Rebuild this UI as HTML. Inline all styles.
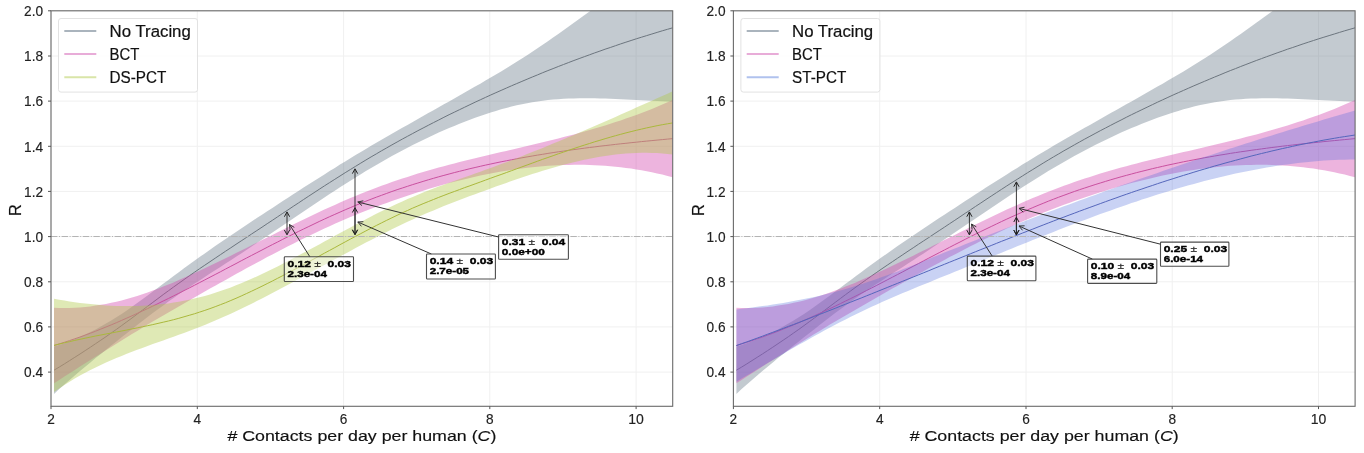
<!DOCTYPE html><html><head><meta charset="utf-8"><style>html,body{margin:0;padding:0;background:#fff;overflow:hidden}svg{display:block;will-change:transform}</style></head><body><svg width="1364" height="453" viewBox="0 0 1364 453">
<rect width="1364" height="453" fill="#fff"/>
<g font-family='"Liberation Sans", sans-serif'>
<line x1="51.0" y1="10.8" x2="51.0" y2="406.3" stroke="#f0f0f0" stroke-width="1"/>
<line x1="197.3" y1="10.8" x2="197.3" y2="406.3" stroke="#f0f0f0" stroke-width="1"/>
<line x1="343.6" y1="10.8" x2="343.6" y2="406.3" stroke="#f0f0f0" stroke-width="1"/>
<line x1="489.8" y1="10.8" x2="489.8" y2="406.3" stroke="#f0f0f0" stroke-width="1"/>
<line x1="636.1" y1="10.8" x2="636.1" y2="406.3" stroke="#f0f0f0" stroke-width="1"/>
<line x1="51.0" y1="372.1" x2="672.7" y2="372.1" stroke="#f0f0f0" stroke-width="1"/>
<line x1="51.0" y1="326.9" x2="672.7" y2="326.9" stroke="#f0f0f0" stroke-width="1"/>
<line x1="51.0" y1="281.8" x2="672.7" y2="281.8" stroke="#f0f0f0" stroke-width="1"/>
<line x1="51.0" y1="236.6" x2="672.7" y2="236.6" stroke="#f0f0f0" stroke-width="1"/>
<line x1="51.0" y1="191.4" x2="672.7" y2="191.4" stroke="#f0f0f0" stroke-width="1"/>
<line x1="51.0" y1="146.3" x2="672.7" y2="146.3" stroke="#f0f0f0" stroke-width="1"/>
<line x1="51.0" y1="101.1" x2="672.7" y2="101.1" stroke="#f0f0f0" stroke-width="1"/>
<line x1="51.0" y1="56.0" x2="672.7" y2="56.0" stroke="#f0f0f0" stroke-width="1"/>
<line x1="51.0" y1="10.8" x2="672.7" y2="10.8" stroke="#f0f0f0" stroke-width="1"/>
<clipPath id="clip0"><rect x="51.0" y="10.8" width="621.7" height="395.5"/></clipPath>
<g clip-path="url(#clip0)">
<path d="M54.0,346.6 L59.2,345.0 L64.4,343.2 L69.6,341.3 L74.8,339.2 L80.0,337.0 L85.2,334.6 L90.4,332.1 L95.6,329.4 L100.8,326.6 L106.0,323.6 L111.2,320.5 L116.4,317.3 L121.6,313.9 L126.8,310.4 L132.0,306.8 L137.2,303.1 L142.4,299.3 L147.6,295.5 L152.8,291.6 L158.0,287.7 L163.2,283.8 L168.4,279.9 L173.6,276.0 L178.8,272.2 L184.0,268.3 L189.2,264.6 L194.4,260.8 L199.6,257.1 L204.8,253.4 L210.0,249.7 L215.2,246.1 L220.4,242.5 L225.6,238.9 L230.8,235.4 L236.0,231.9 L241.2,228.4 L246.4,225.0 L251.6,221.5 L256.8,218.1 L262.0,214.7 L267.2,211.3 L272.4,207.9 L277.6,204.5 L282.8,201.1 L288.0,197.7 L293.2,194.3 L298.4,191.0 L303.6,187.6 L308.8,184.3 L314.0,181.0 L319.2,177.7 L324.4,174.4 L329.6,171.1 L334.8,167.9 L340.0,164.6 L345.2,161.4 L350.4,158.3 L355.6,155.1 L360.8,152.0 L365.9,148.9 L371.1,145.8 L376.3,142.8 L381.5,139.8 L386.7,136.8 L391.9,133.8 L397.1,130.8 L402.3,127.8 L407.5,124.9 L412.7,121.9 L417.9,119.0 L423.1,116.0 L428.3,113.1 L433.5,110.2 L438.7,107.3 L443.9,104.3 L449.1,101.4 L454.3,98.5 L459.5,95.5 L464.7,92.6 L469.9,89.6 L475.1,86.6 L480.3,83.7 L485.5,80.6 L490.7,77.6 L495.9,74.5 L501.1,71.4 L506.3,68.3 L511.5,65.1 L516.7,61.8 L521.9,58.5 L527.1,55.2 L532.3,51.7 L537.5,48.3 L542.7,44.7 L547.9,41.2 L553.1,37.5 L558.3,33.9 L563.5,30.2 L568.7,26.5 L573.9,22.7 L579.1,19.0 L584.3,15.2 L589.5,11.4 L594.7,7.6 L599.9,3.8 L605.1,-0.0 L610.3,-3.8 L615.5,-7.6 L620.7,-11.3 L625.9,-15.0 L631.1,-18.7 L636.3,-22.3 L641.5,-25.9 L646.7,-29.4 L651.9,-32.9 L657.1,-36.2 L662.3,-39.6 L667.5,-42.8 L672.7,-45.9 L672.7,101.5 L667.5,101.4 L662.3,101.2 L657.1,101.0 L651.9,100.8 L646.7,100.5 L641.5,100.3 L636.3,100.0 L631.1,99.7 L625.9,99.5 L620.7,99.2 L615.5,99.0 L610.3,98.7 L605.1,98.5 L599.9,98.4 L594.7,98.3 L589.5,98.2 L584.3,98.2 L579.1,98.2 L573.9,98.4 L568.7,98.6 L563.5,98.8 L558.3,99.2 L553.1,99.6 L547.9,100.1 L542.7,100.7 L537.5,101.4 L532.3,102.3 L527.1,103.2 L521.9,104.2 L516.7,105.3 L511.5,106.6 L506.3,107.9 L501.1,109.3 L495.9,110.9 L490.7,112.5 L485.5,114.2 L480.3,116.0 L475.1,117.8 L469.9,119.7 L464.7,121.7 L459.5,123.8 L454.3,125.9 L449.1,128.1 L443.9,130.3 L438.7,132.6 L433.5,135.0 L428.3,137.4 L423.1,139.9 L417.9,142.5 L412.7,145.1 L407.5,147.8 L402.3,150.5 L397.1,153.3 L391.9,156.1 L386.7,159.0 L381.5,161.9 L376.3,164.9 L371.1,168.0 L365.9,171.1 L360.8,174.2 L355.6,177.4 L350.4,180.7 L345.2,184.0 L340.0,187.3 L334.8,190.7 L329.6,194.1 L324.4,197.5 L319.2,201.0 L314.0,204.4 L308.8,207.9 L303.6,211.5 L298.4,215.0 L293.2,218.5 L288.0,222.0 L282.8,225.6 L277.6,229.1 L272.4,232.6 L267.2,236.1 L262.0,239.6 L256.8,243.1 L251.6,246.5 L246.4,250.0 L241.2,253.4 L236.0,256.8 L230.8,260.2 L225.6,263.5 L220.4,266.9 L215.2,270.3 L210.0,273.6 L204.8,277.0 L199.6,280.4 L194.4,283.8 L189.2,287.3 L184.0,290.8 L178.8,294.3 L173.6,297.9 L168.4,301.6 L163.2,305.4 L158.0,309.2 L152.8,313.1 L147.6,317.0 L142.4,321.0 L137.2,325.1 L132.0,329.2 L126.8,333.2 L121.6,337.3 L116.4,341.5 L111.2,345.6 L106.0,349.7 L100.8,353.9 L95.6,358.1 L90.4,362.4 L85.2,366.7 L80.0,371.0 L74.8,375.4 L69.6,379.9 L64.4,384.5 L59.2,389.1 L54.0,393.9Z" fill="#697a89" fill-opacity="0.4" clip-path="url(#clip0)"/>
<path d="M54.0,370.2 L59.2,367.1 L64.4,363.9 L69.6,360.6 L74.8,357.3 L80.0,354.0 L85.2,350.6 L90.4,347.2 L95.6,343.7 L100.8,340.2 L106.0,336.7 L111.2,333.0 L116.4,329.4 L121.6,325.6 L126.8,321.8 L132.0,318.0 L137.2,314.1 L142.4,310.2 L147.6,306.3 L152.8,302.4 L158.0,298.5 L163.2,294.6 L168.4,290.8 L173.6,287.0 L178.8,283.3 L184.0,279.6 L189.2,275.9 L194.4,272.3 L199.6,268.7 L204.8,265.2 L210.0,261.7 L215.2,258.2 L220.4,254.7 L225.6,251.2 L230.8,247.8 L236.0,244.3 L241.2,240.9 L246.4,237.5 L251.6,234.0 L256.8,230.6 L262.0,227.2 L267.2,223.7 L272.4,220.3 L277.6,216.8 L282.8,213.3 L288.0,209.9 L293.2,206.4 L298.4,203.0 L303.6,199.5 L308.8,196.1 L314.0,192.7 L319.2,189.3 L324.4,185.9 L329.6,182.6 L334.8,179.3 L340.0,176.0 L345.2,172.7 L350.4,169.5 L355.6,166.3 L360.8,163.1 L365.9,160.0 L371.1,156.9 L376.3,153.9 L381.5,150.8 L386.7,147.9 L391.9,144.9 L397.1,142.0 L402.3,139.1 L407.5,136.3 L412.7,133.5 L417.9,130.7 L423.1,128.0 L428.3,125.3 L433.5,122.6 L438.7,120.0 L443.9,117.3 L449.1,114.7 L454.3,112.2 L459.5,109.7 L464.7,107.2 L469.9,104.7 L475.1,102.2 L480.3,99.8 L485.5,97.4 L490.7,95.0 L495.9,92.7 L501.1,90.4 L506.3,88.1 L511.5,85.8 L516.7,83.6 L521.9,81.4 L527.1,79.2 L532.3,77.0 L537.5,74.9 L542.7,72.7 L547.9,70.6 L553.1,68.6 L558.3,66.5 L563.5,64.5 L568.7,62.5 L573.9,60.5 L579.1,58.6 L584.3,56.7 L589.5,54.8 L594.7,52.9 L599.9,51.1 L605.1,49.2 L610.3,47.5 L615.5,45.7 L620.7,43.9 L625.9,42.2 L631.1,40.5 L636.3,38.8 L641.5,37.2 L646.7,35.6 L651.9,34.0 L657.1,32.4 L662.3,30.8 L667.5,29.3 L672.7,27.8" fill="none" stroke="#6c757e" stroke-width="1" clip-path="url(#clip0)"/>
<path d="M54.0,307.8 L59.2,308.0 L64.4,308.0 L69.6,308.0 L74.8,307.7 L80.0,307.4 L85.2,306.9 L90.4,306.4 L95.6,305.6 L100.8,304.8 L106.0,303.9 L111.2,302.8 L116.4,301.7 L121.6,300.4 L126.8,299.0 L132.0,297.5 L137.2,295.9 L142.4,294.3 L147.6,292.5 L152.8,290.6 L158.0,288.7 L163.2,286.6 L168.4,284.5 L173.6,282.4 L178.8,280.1 L184.0,277.8 L189.2,275.5 L194.4,273.1 L199.6,270.7 L204.8,268.3 L210.0,265.8 L215.2,263.3 L220.4,260.8 L225.6,258.2 L230.8,255.7 L236.0,253.1 L241.2,250.5 L246.4,247.9 L251.6,245.3 L256.8,242.7 L262.0,240.1 L267.2,237.5 L272.4,234.9 L277.6,232.3 L282.8,229.7 L288.0,227.1 L293.2,224.5 L298.4,222.0 L303.6,219.5 L308.8,217.0 L314.0,214.5 L319.2,212.0 L324.4,209.6 L329.6,207.2 L334.8,204.9 L340.0,202.6 L345.2,200.3 L350.4,198.1 L355.6,195.9 L360.8,193.8 L365.9,191.7 L371.1,189.7 L376.3,187.7 L381.5,185.8 L386.7,183.9 L391.9,182.1 L397.1,180.3 L402.3,178.5 L407.5,176.9 L412.7,175.2 L417.9,173.6 L423.1,172.1 L428.3,170.6 L433.5,169.1 L438.7,167.6 L443.9,166.2 L449.1,164.8 L454.3,163.5 L459.5,162.1 L464.7,160.8 L469.9,159.5 L475.1,158.3 L480.3,157.0 L485.5,155.8 L490.7,154.5 L495.9,153.3 L501.1,152.1 L506.3,150.9 L511.5,149.7 L516.7,148.5 L521.9,147.2 L527.1,146.0 L532.3,144.8 L537.5,143.5 L542.7,142.3 L547.9,141.0 L553.1,139.7 L558.3,138.4 L563.5,137.1 L568.7,135.7 L573.9,134.4 L579.1,133.0 L584.3,131.5 L589.5,130.0 L594.7,128.5 L599.9,127.0 L605.1,125.4 L610.3,123.8 L615.5,122.1 L620.7,120.4 L625.9,118.6 L631.1,116.8 L636.3,114.9 L641.5,113.0 L646.7,111.0 L651.9,108.9 L657.1,106.8 L662.3,104.6 L667.5,102.3 L672.7,100.0 L672.7,177.3 L667.5,175.9 L662.3,174.6 L657.1,173.4 L651.9,172.3 L646.7,171.3 L641.5,170.3 L636.3,169.4 L631.1,168.6 L625.9,167.9 L620.7,167.3 L615.5,166.7 L610.3,166.2 L605.1,165.8 L599.9,165.5 L594.7,165.2 L589.5,165.0 L584.3,164.8 L579.1,164.8 L573.9,164.8 L568.7,164.9 L563.5,165.0 L558.3,165.2 L553.1,165.5 L547.9,165.8 L542.7,166.2 L537.5,166.7 L532.3,167.2 L527.1,167.8 L521.9,168.4 L516.7,169.1 L511.5,169.9 L506.3,170.7 L501.1,171.6 L495.9,172.5 L490.7,173.5 L485.5,174.5 L480.3,175.6 L475.1,176.7 L469.9,177.9 L464.7,179.2 L459.5,180.4 L454.3,181.8 L449.1,183.1 L443.9,184.6 L438.7,186.0 L433.5,187.5 L428.3,189.1 L423.1,190.7 L417.9,192.3 L412.7,194.0 L407.5,195.7 L402.3,197.4 L397.1,199.2 L391.9,201.0 L386.7,202.9 L381.5,204.8 L376.3,206.7 L371.1,208.7 L365.9,210.7 L360.8,212.8 L355.6,214.9 L350.4,217.1 L345.2,219.3 L340.0,221.5 L334.8,223.8 L329.6,226.2 L324.4,228.6 L319.2,231.0 L314.0,233.5 L308.8,236.0 L303.6,238.5 L298.4,241.1 L293.2,243.7 L288.0,246.3 L282.8,249.0 L277.6,251.7 L272.4,254.4 L267.2,257.1 L262.0,259.9 L256.8,262.7 L251.6,265.5 L246.4,268.3 L241.2,271.2 L236.0,274.1 L230.8,277.0 L225.6,279.9 L220.4,282.8 L215.2,285.7 L210.0,288.6 L204.8,291.6 L199.6,294.5 L194.4,297.5 L189.2,300.4 L184.0,303.4 L178.8,306.4 L173.6,309.4 L168.4,312.4 L163.2,315.4 L158.0,318.5 L152.8,321.5 L147.6,324.6 L142.4,327.8 L137.2,330.9 L132.0,334.1 L126.8,337.2 L121.6,340.5 L116.4,343.7 L111.2,346.9 L106.0,350.2 L100.8,353.4 L95.6,356.7 L90.4,360.0 L85.2,363.3 L80.0,366.6 L74.8,369.9 L69.6,373.3 L64.4,376.6 L59.2,379.9 L54.0,383.2Z" fill="#d244ad" fill-opacity="0.4" clip-path="url(#clip0)"/>
<path d="M54.0,345.5 L59.2,343.9 L64.4,342.3 L69.6,340.6 L74.8,338.8 L80.0,337.0 L85.2,335.1 L90.4,333.2 L95.6,331.2 L100.8,329.1 L106.0,327.0 L111.2,324.9 L116.4,322.7 L121.6,320.4 L126.8,318.1 L132.0,315.8 L137.2,313.4 L142.4,311.0 L147.6,308.6 L152.8,306.1 L158.0,303.6 L163.2,301.0 L168.4,298.5 L173.6,295.9 L178.8,293.3 L184.0,290.6 L189.2,288.0 L194.4,285.3 L199.6,282.6 L204.8,279.9 L210.0,277.2 L215.2,274.5 L220.4,271.8 L225.6,269.0 L230.8,266.3 L236.0,263.6 L241.2,260.8 L246.4,258.1 L251.6,255.4 L256.8,252.7 L262.0,250.0 L267.2,247.3 L272.4,244.6 L277.6,242.0 L282.8,239.3 L288.0,236.7 L293.2,234.1 L298.4,231.5 L303.6,229.0 L308.8,226.5 L314.0,224.0 L319.2,221.5 L324.4,219.1 L329.6,216.7 L334.8,214.4 L340.0,212.1 L345.2,209.8 L350.4,207.6 L355.6,205.4 L360.8,203.3 L365.9,201.2 L371.1,199.2 L376.3,197.2 L381.5,195.3 L386.7,193.4 L391.9,191.5 L397.1,189.7 L402.3,188.0 L407.5,186.3 L412.7,184.6 L417.9,183.0 L423.1,181.4 L428.3,179.8 L433.5,178.3 L438.7,176.8 L443.9,175.4 L449.1,174.0 L454.3,172.6 L459.5,171.3 L464.7,170.0 L469.9,168.7 L475.1,167.5 L480.3,166.3 L485.5,165.1 L490.7,164.0 L495.9,162.9 L501.1,161.8 L506.3,160.8 L511.5,159.8 L516.7,158.8 L521.9,157.8 L527.1,156.9 L532.3,156.0 L537.5,155.1 L542.7,154.3 L547.9,153.4 L553.1,152.6 L558.3,151.8 L563.5,151.1 L568.7,150.3 L573.9,149.6 L579.1,148.9 L584.3,148.2 L589.5,147.5 L594.7,146.9 L599.9,146.2 L605.1,145.6 L610.3,145.0 L615.5,144.4 L620.7,143.8 L625.9,143.3 L631.1,142.7 L636.3,142.2 L641.5,141.6 L646.7,141.1 L651.9,140.6 L657.1,140.1 L662.3,139.6 L667.5,139.1 L672.7,138.6" fill="none" stroke="#c9509f" stroke-width="1" clip-path="url(#clip0)"/>
<path d="M54.0,298.8 L59.2,299.8 L64.4,300.6 L69.6,301.5 L74.8,302.2 L80.0,302.9 L85.2,303.5 L90.4,304.1 L95.6,304.6 L100.8,305.1 L106.0,305.4 L111.2,305.7 L116.4,305.9 L121.6,306.0 L126.8,306.1 L132.0,306.1 L137.2,306.0 L142.4,305.8 L147.6,305.5 L152.8,305.1 L158.0,304.6 L163.2,304.0 L168.4,303.4 L173.6,302.6 L178.8,301.8 L184.0,300.8 L189.2,299.7 L194.4,298.5 L199.6,297.3 L204.8,295.9 L210.0,294.4 L215.2,292.8 L220.4,291.1 L225.6,289.3 L230.8,287.4 L236.0,285.3 L241.2,283.2 L246.4,281.0 L251.6,278.8 L256.8,276.4 L262.0,274.0 L267.2,271.5 L272.4,269.0 L277.6,266.4 L282.8,263.7 L288.0,261.0 L293.2,258.3 L298.4,255.6 L303.6,252.8 L308.8,250.0 L314.0,247.2 L319.2,244.4 L324.4,241.5 L329.6,238.7 L334.8,235.8 L340.0,233.0 L345.2,230.2 L350.4,227.4 L355.6,224.6 L360.8,221.9 L365.9,219.2 L371.1,216.5 L376.3,213.8 L381.5,211.2 L386.7,208.7 L391.9,206.2 L397.1,203.8 L402.3,201.4 L407.5,199.1 L412.7,196.9 L417.9,194.7 L423.1,192.6 L428.3,190.6 L433.5,188.6 L438.7,186.6 L443.9,184.7 L449.1,182.8 L454.3,180.9 L459.5,179.1 L464.7,177.2 L469.9,175.4 L475.1,173.6 L480.3,171.7 L485.5,169.8 L490.7,168.0 L495.9,166.1 L501.1,164.1 L506.3,162.2 L511.5,160.2 L516.7,158.2 L521.9,156.2 L527.1,154.1 L532.3,152.1 L537.5,150.0 L542.7,147.9 L547.9,145.7 L553.1,143.6 L558.3,141.5 L563.5,139.3 L568.7,137.1 L573.9,134.9 L579.1,132.7 L584.3,130.5 L589.5,128.2 L594.7,126.0 L599.9,123.7 L605.1,121.4 L610.3,119.2 L615.5,116.9 L620.7,114.6 L625.9,112.3 L631.1,110.0 L636.3,107.6 L641.5,105.3 L646.7,103.0 L651.9,100.7 L657.1,98.3 L662.3,96.0 L667.5,93.7 L672.7,91.3 L672.7,154.6 L667.5,154.0 L662.3,153.5 L657.1,153.1 L651.9,152.9 L646.7,152.8 L641.5,152.8 L636.3,153.0 L631.1,153.2 L625.9,153.5 L620.7,154.0 L615.5,154.6 L610.3,155.2 L605.1,156.0 L599.9,156.8 L594.7,157.7 L589.5,158.7 L584.3,159.8 L579.1,160.9 L573.9,162.2 L568.7,163.5 L563.5,164.8 L558.3,166.2 L553.1,167.7 L547.9,169.2 L542.7,170.8 L537.5,172.4 L532.3,174.1 L527.1,175.8 L521.9,177.6 L516.7,179.3 L511.5,181.1 L506.3,182.9 L501.1,184.8 L495.9,186.6 L490.7,188.5 L485.5,190.4 L480.3,192.3 L475.1,194.2 L469.9,196.1 L464.7,198.1 L459.5,200.0 L454.3,202.0 L449.1,204.1 L443.9,206.1 L438.7,208.2 L433.5,210.4 L428.3,212.6 L423.1,214.8 L417.9,217.1 L412.7,219.4 L407.5,221.8 L402.3,224.3 L397.1,226.8 L391.9,229.3 L386.7,231.9 L381.5,234.5 L376.3,237.2 L371.1,239.9 L365.9,242.6 L360.8,245.3 L355.6,248.1 L350.4,250.9 L345.2,253.7 L340.0,256.5 L334.8,259.3 L329.6,262.1 L324.4,265.0 L319.2,267.8 L314.0,270.6 L308.8,273.5 L303.6,276.3 L298.4,279.1 L293.2,281.9 L288.0,284.7 L282.8,287.5 L277.6,290.3 L272.4,293.0 L267.2,295.7 L262.0,298.4 L256.8,301.1 L251.6,303.7 L246.4,306.2 L241.2,308.8 L236.0,311.2 L230.8,313.7 L225.6,316.0 L220.4,318.3 L215.2,320.6 L210.0,322.7 L204.8,324.9 L199.6,326.9 L194.4,329.0 L189.2,331.0 L184.0,332.9 L178.8,334.8 L173.6,336.7 L168.4,338.6 L163.2,340.4 L158.0,342.3 L152.8,344.1 L147.6,346.0 L142.4,347.9 L137.2,349.8 L132.0,351.8 L126.8,353.8 L121.6,355.9 L116.4,358.1 L111.2,360.3 L106.0,362.6 L100.8,365.0 L95.6,367.5 L90.4,370.1 L85.2,372.8 L80.0,375.6 L74.8,378.6 L69.6,381.7 L64.4,384.9 L59.2,388.4 L54.0,391.9Z" fill="#afc846" fill-opacity="0.4" clip-path="url(#clip0)"/>
<path d="M54.0,345.4 L59.2,344.1 L64.4,342.8 L69.6,341.6 L74.8,340.4 L80.0,339.3 L85.2,338.2 L90.4,337.1 L95.6,336.0 L100.8,335.0 L106.0,334.0 L111.2,333.0 L116.4,332.0 L121.6,331.0 L126.8,330.0 L132.0,328.9 L137.2,327.9 L142.4,326.8 L147.6,325.7 L152.8,324.6 L158.0,323.4 L163.2,322.2 L168.4,321.0 L173.6,319.7 L178.8,318.3 L184.0,316.8 L189.2,315.3 L194.4,313.8 L199.6,312.1 L204.8,310.4 L210.0,308.6 L215.2,306.7 L220.4,304.7 L225.6,302.7 L230.8,300.5 L236.0,298.3 L241.2,296.0 L246.4,293.6 L251.6,291.2 L256.8,288.7 L262.0,286.2 L267.2,283.6 L272.4,281.0 L277.6,278.3 L282.8,275.6 L288.0,272.9 L293.2,270.1 L298.4,267.4 L303.6,264.6 L308.8,261.7 L314.0,258.9 L319.2,256.1 L324.4,253.2 L329.6,250.4 L334.8,247.6 L340.0,244.7 L345.2,241.9 L350.4,239.1 L355.6,236.3 L360.8,233.6 L365.9,230.9 L371.1,228.2 L376.3,225.5 L381.5,222.9 L386.7,220.3 L391.9,217.8 L397.1,215.3 L402.3,212.8 L407.5,210.5 L412.7,208.1 L417.9,205.9 L423.1,203.7 L428.3,201.6 L433.5,199.5 L438.7,197.4 L443.9,195.4 L449.1,193.4 L454.3,191.5 L459.5,189.6 L464.7,187.6 L469.9,185.8 L475.1,183.9 L480.3,182.0 L485.5,180.1 L490.7,178.2 L495.9,176.3 L501.1,174.5 L506.3,172.6 L511.5,170.7 L516.7,168.8 L521.9,166.9 L527.1,165.0 L532.3,163.1 L537.5,161.2 L542.7,159.3 L547.9,157.5 L553.1,155.7 L558.3,153.8 L563.5,152.1 L568.7,150.3 L573.9,148.5 L579.1,146.8 L584.3,145.1 L589.5,143.5 L594.7,141.8 L599.9,140.3 L605.1,138.7 L610.3,137.2 L615.5,135.7 L620.7,134.3 L625.9,132.9 L631.1,131.6 L636.3,130.3 L641.5,129.1 L646.7,127.9 L651.9,126.8 L657.1,125.7 L662.3,124.7 L667.5,123.8 L672.7,122.9" fill="none" stroke="#aab83c" stroke-width="1" clip-path="url(#clip0)"/>
</g>
<line x1="51.0" y1="236.5" x2="672.7" y2="236.5" stroke="#b4b4b4" stroke-width="1" stroke-dasharray="6.4,1.6,1,1.6"/>
<line x1="287" y1="212.4" x2="287" y2="234.3" stroke="#222" stroke-width="0.9"/>
<path d="M284.4,216.70000000000002 L287,211.9 L289.6,216.70000000000002" fill="none" stroke="#222" stroke-width="1"/>
<path d="M284.4,230.0 L287,234.8 L289.6,230.0" fill="none" stroke="#222" stroke-width="1"/>
<line x1="355" y1="169.3" x2="355" y2="234.1" stroke="#222" stroke-width="0.9"/>
<path d="M352.4,173.60000000000002 L355,168.8 L357.6,173.60000000000002" fill="none" stroke="#222" stroke-width="1"/>
<path d="M352.4,229.79999999999998 L355,234.6 L357.6,229.79999999999998" fill="none" stroke="#222" stroke-width="1"/>
<line x1="355" y1="208.2" x2="355" y2="234.1" stroke="#222" stroke-width="0.9"/>
<path d="M352.4,212.5 L355,207.7 L357.6,212.5" fill="none" stroke="#222" stroke-width="1"/>
<path d="M352.4,229.79999999999998 L355,234.6 L357.6,229.79999999999998" fill="none" stroke="#222" stroke-width="1"/>
<line x1="309.8" y1="256.7" x2="289.5" y2="224.5" stroke="#333" stroke-width="1"/>
<path d="M294.3,227.4 L289.5,224.5 L290.1,230.1" fill="none" stroke="#333" stroke-width="1"/>
<rect x="284.3" y="256.7" width="69.19999999999999" height="24.80000000000001" rx="0.8" fill="#fff" fill-opacity="0.45" stroke="#3a3a3a" stroke-opacity="0.9" stroke-width="1.1"/>
<line x1="431.4" y1="254.0" x2="357.8" y2="222.0" stroke="#333" stroke-width="1"/>
<path d="M363.4,221.7 L357.8,222.0 L361.4,226.3" fill="none" stroke="#333" stroke-width="1"/>
<rect x="426.5" y="254.0" width="68.89999999999998" height="25.0" rx="0.8" fill="#fff" fill-opacity="0.45" stroke="#3a3a3a" stroke-opacity="0.9" stroke-width="1.1"/>
<line x1="498.6" y1="237.0" x2="357.8" y2="202.0" stroke="#333" stroke-width="1"/>
<path d="M363.3,200.8 L357.8,202.0 L362.0,205.6" fill="none" stroke="#333" stroke-width="1"/>
<rect x="498.6" y="234.8" width="69.79999999999995" height="24.5" rx="0.8" fill="#fff" fill-opacity="0.45" stroke="#3a3a3a" stroke-opacity="0.9" stroke-width="1.1"/>
<text x="287.5" y="266.5" font-size="9.3" text-anchor="start" font-weight="bold" textLength="63.4" lengthAdjust="spacingAndGlyphs" xml:space="preserve" stroke="#000" stroke-width="0.42">0.12 <tspan font-weight="normal" stroke-width="0.1" fill="#222">±</tspan>  0.03</text>
<text x="287.5" y="276.7" font-size="9.3" text-anchor="start" font-weight="bold" textLength="39.4" lengthAdjust="spacingAndGlyphs" stroke="#000" stroke-width="0.42">2.3e-04</text>
<text x="429.7" y="263.8" font-size="9.3" text-anchor="start" font-weight="bold" textLength="63.4" lengthAdjust="spacingAndGlyphs" xml:space="preserve" stroke="#000" stroke-width="0.42">0.14 <tspan font-weight="normal" stroke-width="0.1" fill="#222">±</tspan>  0.03</text>
<text x="429.7" y="274.0" font-size="9.3" text-anchor="start" font-weight="bold" textLength="39.4" lengthAdjust="spacingAndGlyphs" stroke="#000" stroke-width="0.42">2.7e-05</text>
<text x="501.8" y="244.6" font-size="9.3" text-anchor="start" font-weight="bold" textLength="63.4" lengthAdjust="spacingAndGlyphs" xml:space="preserve" stroke="#000" stroke-width="0.42">0.31 <tspan font-weight="normal" stroke-width="0.1" fill="#222">±</tspan>  0.04</text>
<text x="501.8" y="254.8" font-size="9.3" text-anchor="start" font-weight="bold" textLength="43.0" lengthAdjust="spacingAndGlyphs" stroke="#000" stroke-width="0.42">0.0e+00</text>
<rect x="51.0" y="10.8" width="621.7" height="395.5" fill="none" stroke="#6a6a6a" stroke-width="1.1"/>
<line x1="51.0" y1="406.3" x2="51.0" y2="409.1" stroke="#555" stroke-width="1"/>
<text x="51.0" y="424.1" font-size="13.9" text-anchor="middle" font-weight="normal" textLength="7.6" lengthAdjust="spacingAndGlyphs" fill="#222" stroke="#222" stroke-width="0.15">2</text>
<line x1="197.3" y1="406.3" x2="197.3" y2="409.1" stroke="#555" stroke-width="1"/>
<text x="197.3" y="424.1" font-size="13.9" text-anchor="middle" font-weight="normal" textLength="7.6" lengthAdjust="spacingAndGlyphs" fill="#222" stroke="#222" stroke-width="0.15">4</text>
<line x1="343.6" y1="406.3" x2="343.6" y2="409.1" stroke="#555" stroke-width="1"/>
<text x="343.6" y="424.1" font-size="13.9" text-anchor="middle" font-weight="normal" textLength="7.6" lengthAdjust="spacingAndGlyphs" fill="#222" stroke="#222" stroke-width="0.15">6</text>
<line x1="489.8" y1="406.3" x2="489.8" y2="409.1" stroke="#555" stroke-width="1"/>
<text x="489.8" y="424.1" font-size="13.9" text-anchor="middle" font-weight="normal" textLength="7.6" lengthAdjust="spacingAndGlyphs" fill="#222" stroke="#222" stroke-width="0.15">8</text>
<line x1="636.1" y1="406.3" x2="636.1" y2="409.1" stroke="#555" stroke-width="1"/>
<text x="636.1" y="424.1" font-size="13.9" text-anchor="middle" font-weight="normal" textLength="15.6" lengthAdjust="spacingAndGlyphs" fill="#222" stroke="#222" stroke-width="0.15">10</text>
<line x1="48.0" y1="372.1" x2="51.0" y2="372.1" stroke="#555" stroke-width="1"/>
<text x="43.1" y="377.3" font-size="13.9" text-anchor="end" font-weight="normal" textLength="19.0" lengthAdjust="spacingAndGlyphs" fill="#222" stroke="#222" stroke-width="0.15">0.4</text>
<line x1="48.0" y1="326.9" x2="51.0" y2="326.9" stroke="#555" stroke-width="1"/>
<text x="43.1" y="332.1" font-size="13.9" text-anchor="end" font-weight="normal" textLength="19.0" lengthAdjust="spacingAndGlyphs" fill="#222" stroke="#222" stroke-width="0.15">0.6</text>
<line x1="48.0" y1="281.8" x2="51.0" y2="281.8" stroke="#555" stroke-width="1"/>
<text x="43.1" y="287.0" font-size="13.9" text-anchor="end" font-weight="normal" textLength="19.0" lengthAdjust="spacingAndGlyphs" fill="#222" stroke="#222" stroke-width="0.15">0.8</text>
<line x1="48.0" y1="236.6" x2="51.0" y2="236.6" stroke="#555" stroke-width="1"/>
<text x="43.1" y="241.8" font-size="13.9" text-anchor="end" font-weight="normal" textLength="19.0" lengthAdjust="spacingAndGlyphs" fill="#222" stroke="#222" stroke-width="0.15">1.0</text>
<line x1="48.0" y1="191.4" x2="51.0" y2="191.4" stroke="#555" stroke-width="1"/>
<text x="43.1" y="196.6" font-size="13.9" text-anchor="end" font-weight="normal" textLength="19.0" lengthAdjust="spacingAndGlyphs" fill="#222" stroke="#222" stroke-width="0.15">1.2</text>
<line x1="48.0" y1="146.3" x2="51.0" y2="146.3" stroke="#555" stroke-width="1"/>
<text x="43.1" y="151.5" font-size="13.9" text-anchor="end" font-weight="normal" textLength="19.0" lengthAdjust="spacingAndGlyphs" fill="#222" stroke="#222" stroke-width="0.15">1.4</text>
<line x1="48.0" y1="101.1" x2="51.0" y2="101.1" stroke="#555" stroke-width="1"/>
<text x="43.1" y="106.3" font-size="13.9" text-anchor="end" font-weight="normal" textLength="19.0" lengthAdjust="spacingAndGlyphs" fill="#222" stroke="#222" stroke-width="0.15">1.6</text>
<line x1="48.0" y1="56.0" x2="51.0" y2="56.0" stroke="#555" stroke-width="1"/>
<text x="43.1" y="61.2" font-size="13.9" text-anchor="end" font-weight="normal" textLength="19.0" lengthAdjust="spacingAndGlyphs" fill="#222" stroke="#222" stroke-width="0.15">1.8</text>
<line x1="48.0" y1="10.8" x2="51.0" y2="10.8" stroke="#555" stroke-width="1"/>
<text x="43.1" y="16.0" font-size="13.9" text-anchor="end" font-weight="normal" textLength="19.0" lengthAdjust="spacingAndGlyphs" fill="#222" stroke="#222" stroke-width="0.15">2.0</text>
<text x="361.9" y="440.8" font-size="15.5" text-anchor="middle" fill="#111" stroke="#111" stroke-width="0.15" textLength="269" lengthAdjust="spacingAndGlyphs"># Contacts per day per human (<tspan font-style="italic">C</tspan>)</text>
<text transform="translate(21.2,210) rotate(-90)" font-size="16.4" text-anchor="middle" fill="#111" stroke="#111" stroke-width="0.15">R</text>
<rect x="58.5" y="18.5" width="139.0" height="73.6" rx="2.5" fill="#fff" fill-opacity="0.8" stroke="#e2e2e2" stroke-width="1"/>
<line x1="64.3" y1="30.9" x2="96.3" y2="30.9" stroke="#aab4bd" stroke-width="2"/>
<text x="109.6" y="36.8" font-size="16.3" text-anchor="start" font-weight="normal" textLength="81.2" lengthAdjust="spacingAndGlyphs" fill="#111" stroke="#111" stroke-width="0.2">No Tracing</text>
<line x1="64.3" y1="54.0" x2="96.3" y2="54.0" stroke="#e8acd8" stroke-width="2"/>
<text x="109.6" y="59.9" font-size="16.3" text-anchor="start" font-weight="normal" textLength="29.8" lengthAdjust="spacingAndGlyphs" fill="#111" stroke="#111" stroke-width="0.2">BCT</text>
<line x1="64.3" y1="77.2" x2="96.3" y2="77.2" stroke="#d9e5a8" stroke-width="2"/>
<text x="109.6" y="83.1" font-size="16.3" text-anchor="start" font-weight="normal" textLength="56.8" lengthAdjust="spacingAndGlyphs" fill="#111" stroke="#111" stroke-width="0.2">DS-PCT</text>
</g>
<g font-family='"Liberation Sans", sans-serif'>
<line x1="733.4" y1="10.8" x2="733.4" y2="406.3" stroke="#f0f0f0" stroke-width="1"/>
<line x1="879.7" y1="10.8" x2="879.7" y2="406.3" stroke="#f0f0f0" stroke-width="1"/>
<line x1="1026.0" y1="10.8" x2="1026.0" y2="406.3" stroke="#f0f0f0" stroke-width="1"/>
<line x1="1172.2" y1="10.8" x2="1172.2" y2="406.3" stroke="#f0f0f0" stroke-width="1"/>
<line x1="1318.5" y1="10.8" x2="1318.5" y2="406.3" stroke="#f0f0f0" stroke-width="1"/>
<line x1="733.4" y1="372.1" x2="1355.1" y2="372.1" stroke="#f0f0f0" stroke-width="1"/>
<line x1="733.4" y1="326.9" x2="1355.1" y2="326.9" stroke="#f0f0f0" stroke-width="1"/>
<line x1="733.4" y1="281.8" x2="1355.1" y2="281.8" stroke="#f0f0f0" stroke-width="1"/>
<line x1="733.4" y1="236.6" x2="1355.1" y2="236.6" stroke="#f0f0f0" stroke-width="1"/>
<line x1="733.4" y1="191.4" x2="1355.1" y2="191.4" stroke="#f0f0f0" stroke-width="1"/>
<line x1="733.4" y1="146.3" x2="1355.1" y2="146.3" stroke="#f0f0f0" stroke-width="1"/>
<line x1="733.4" y1="101.1" x2="1355.1" y2="101.1" stroke="#f0f0f0" stroke-width="1"/>
<line x1="733.4" y1="56.0" x2="1355.1" y2="56.0" stroke="#f0f0f0" stroke-width="1"/>
<line x1="733.4" y1="10.8" x2="1355.1" y2="10.8" stroke="#f0f0f0" stroke-width="1"/>
<clipPath id="clip682"><rect x="733.4" y="10.8" width="621.7" height="395.5"/></clipPath>
<g clip-path="url(#clip682)">
<path d="M736.4,346.6 L741.6,345.0 L746.8,343.2 L752.0,341.3 L757.2,339.2 L762.4,337.0 L767.6,334.6 L772.8,332.1 L778.0,329.4 L783.2,326.6 L788.4,323.6 L793.6,320.5 L798.8,317.3 L804.0,313.9 L809.2,310.4 L814.4,306.8 L819.6,303.1 L824.8,299.3 L830.0,295.5 L835.2,291.6 L840.4,287.7 L845.6,283.8 L850.8,279.9 L856.0,276.0 L861.2,272.2 L866.4,268.3 L871.6,264.6 L876.8,260.8 L882.0,257.1 L887.2,253.4 L892.4,249.7 L897.6,246.1 L902.8,242.5 L908.0,238.9 L913.2,235.4 L918.4,231.9 L923.6,228.4 L928.8,225.0 L934.0,221.5 L939.2,218.1 L944.4,214.7 L949.6,211.3 L954.8,207.9 L960.0,204.5 L965.2,201.1 L970.4,197.7 L975.6,194.3 L980.8,191.0 L986.0,187.6 L991.2,184.3 L996.4,181.0 L1001.6,177.7 L1006.8,174.4 L1012.0,171.1 L1017.2,167.9 L1022.4,164.6 L1027.6,161.4 L1032.8,158.3 L1038.0,155.1 L1043.2,152.0 L1048.3,148.9 L1053.5,145.8 L1058.7,142.8 L1063.9,139.8 L1069.1,136.8 L1074.3,133.8 L1079.5,130.8 L1084.7,127.8 L1089.9,124.9 L1095.1,121.9 L1100.3,119.0 L1105.5,116.0 L1110.7,113.1 L1115.9,110.2 L1121.1,107.3 L1126.3,104.3 L1131.5,101.4 L1136.7,98.5 L1141.9,95.5 L1147.1,92.6 L1152.3,89.6 L1157.5,86.6 L1162.7,83.7 L1167.9,80.6 L1173.1,77.6 L1178.3,74.5 L1183.5,71.4 L1188.7,68.3 L1193.9,65.1 L1199.1,61.8 L1204.3,58.5 L1209.5,55.2 L1214.7,51.7 L1219.9,48.3 L1225.1,44.7 L1230.3,41.2 L1235.5,37.5 L1240.7,33.9 L1245.9,30.2 L1251.1,26.5 L1256.3,22.7 L1261.5,19.0 L1266.7,15.2 L1271.9,11.4 L1277.1,7.6 L1282.3,3.8 L1287.5,-0.0 L1292.7,-3.8 L1297.9,-7.6 L1303.1,-11.3 L1308.3,-15.0 L1313.5,-18.7 L1318.7,-22.3 L1323.9,-25.9 L1329.1,-29.4 L1334.3,-32.9 L1339.5,-36.2 L1344.7,-39.6 L1349.9,-42.8 L1355.1,-45.9 L1355.1,101.5 L1349.9,101.4 L1344.7,101.2 L1339.5,101.0 L1334.3,100.8 L1329.1,100.5 L1323.9,100.3 L1318.7,100.0 L1313.5,99.7 L1308.3,99.5 L1303.1,99.2 L1297.9,99.0 L1292.7,98.7 L1287.5,98.5 L1282.3,98.4 L1277.1,98.3 L1271.9,98.2 L1266.7,98.2 L1261.5,98.2 L1256.3,98.4 L1251.1,98.6 L1245.9,98.8 L1240.7,99.2 L1235.5,99.6 L1230.3,100.1 L1225.1,100.7 L1219.9,101.4 L1214.7,102.3 L1209.5,103.2 L1204.3,104.2 L1199.1,105.3 L1193.9,106.6 L1188.7,107.9 L1183.5,109.3 L1178.3,110.9 L1173.1,112.5 L1167.9,114.2 L1162.7,116.0 L1157.5,117.8 L1152.3,119.7 L1147.1,121.7 L1141.9,123.8 L1136.7,125.9 L1131.5,128.1 L1126.3,130.3 L1121.1,132.6 L1115.9,135.0 L1110.7,137.4 L1105.5,139.9 L1100.3,142.5 L1095.1,145.1 L1089.9,147.8 L1084.7,150.5 L1079.5,153.3 L1074.3,156.1 L1069.1,159.0 L1063.9,161.9 L1058.7,164.9 L1053.5,168.0 L1048.3,171.1 L1043.2,174.2 L1038.0,177.4 L1032.8,180.7 L1027.6,184.0 L1022.4,187.3 L1017.2,190.7 L1012.0,194.1 L1006.8,197.5 L1001.6,201.0 L996.4,204.4 L991.2,207.9 L986.0,211.5 L980.8,215.0 L975.6,218.5 L970.4,222.0 L965.2,225.6 L960.0,229.1 L954.8,232.6 L949.6,236.1 L944.4,239.6 L939.2,243.1 L934.0,246.5 L928.8,250.0 L923.6,253.4 L918.4,256.8 L913.2,260.2 L908.0,263.5 L902.8,266.9 L897.6,270.3 L892.4,273.6 L887.2,277.0 L882.0,280.4 L876.8,283.8 L871.6,287.3 L866.4,290.8 L861.2,294.3 L856.0,297.9 L850.8,301.6 L845.6,305.4 L840.4,309.2 L835.2,313.1 L830.0,317.0 L824.8,321.0 L819.6,325.1 L814.4,329.2 L809.2,333.2 L804.0,337.3 L798.8,341.5 L793.6,345.6 L788.4,349.7 L783.2,353.9 L778.0,358.1 L772.8,362.4 L767.6,366.7 L762.4,371.0 L757.2,375.4 L752.0,379.9 L746.8,384.5 L741.6,389.1 L736.4,393.9Z" fill="#697a89" fill-opacity="0.4" clip-path="url(#clip682)"/>
<path d="M736.4,370.2 L741.6,367.1 L746.8,363.9 L752.0,360.6 L757.2,357.3 L762.4,354.0 L767.6,350.6 L772.8,347.2 L778.0,343.7 L783.2,340.2 L788.4,336.7 L793.6,333.0 L798.8,329.4 L804.0,325.6 L809.2,321.8 L814.4,318.0 L819.6,314.1 L824.8,310.2 L830.0,306.3 L835.2,302.4 L840.4,298.5 L845.6,294.6 L850.8,290.8 L856.0,287.0 L861.2,283.3 L866.4,279.6 L871.6,275.9 L876.8,272.3 L882.0,268.7 L887.2,265.2 L892.4,261.7 L897.6,258.2 L902.8,254.7 L908.0,251.2 L913.2,247.8 L918.4,244.3 L923.6,240.9 L928.8,237.5 L934.0,234.0 L939.2,230.6 L944.4,227.2 L949.6,223.7 L954.8,220.3 L960.0,216.8 L965.2,213.3 L970.4,209.9 L975.6,206.4 L980.8,203.0 L986.0,199.5 L991.2,196.1 L996.4,192.7 L1001.6,189.3 L1006.8,185.9 L1012.0,182.6 L1017.2,179.3 L1022.4,176.0 L1027.6,172.7 L1032.8,169.5 L1038.0,166.3 L1043.2,163.1 L1048.3,160.0 L1053.5,156.9 L1058.7,153.9 L1063.9,150.8 L1069.1,147.9 L1074.3,144.9 L1079.5,142.0 L1084.7,139.1 L1089.9,136.3 L1095.1,133.5 L1100.3,130.7 L1105.5,128.0 L1110.7,125.3 L1115.9,122.6 L1121.1,120.0 L1126.3,117.3 L1131.5,114.7 L1136.7,112.2 L1141.9,109.7 L1147.1,107.2 L1152.3,104.7 L1157.5,102.2 L1162.7,99.8 L1167.9,97.4 L1173.1,95.0 L1178.3,92.7 L1183.5,90.4 L1188.7,88.1 L1193.9,85.8 L1199.1,83.6 L1204.3,81.4 L1209.5,79.2 L1214.7,77.0 L1219.9,74.9 L1225.1,72.7 L1230.3,70.6 L1235.5,68.6 L1240.7,66.5 L1245.9,64.5 L1251.1,62.5 L1256.3,60.5 L1261.5,58.6 L1266.7,56.7 L1271.9,54.8 L1277.1,52.9 L1282.3,51.1 L1287.5,49.2 L1292.7,47.5 L1297.9,45.7 L1303.1,43.9 L1308.3,42.2 L1313.5,40.5 L1318.7,38.8 L1323.9,37.2 L1329.1,35.6 L1334.3,34.0 L1339.5,32.4 L1344.7,30.8 L1349.9,29.3 L1355.1,27.8" fill="none" stroke="#6c757e" stroke-width="1" clip-path="url(#clip682)"/>
<path d="M736.4,307.8 L741.6,308.0 L746.8,308.0 L752.0,308.0 L757.2,307.7 L762.4,307.4 L767.6,306.9 L772.8,306.4 L778.0,305.6 L783.2,304.8 L788.4,303.9 L793.6,302.8 L798.8,301.7 L804.0,300.4 L809.2,299.0 L814.4,297.5 L819.6,295.9 L824.8,294.3 L830.0,292.5 L835.2,290.6 L840.4,288.7 L845.6,286.6 L850.8,284.5 L856.0,282.4 L861.2,280.1 L866.4,277.8 L871.6,275.5 L876.8,273.1 L882.0,270.7 L887.2,268.3 L892.4,265.8 L897.6,263.3 L902.8,260.8 L908.0,258.2 L913.2,255.7 L918.4,253.1 L923.6,250.5 L928.8,247.9 L934.0,245.3 L939.2,242.7 L944.4,240.1 L949.6,237.5 L954.8,234.9 L960.0,232.3 L965.2,229.7 L970.4,227.1 L975.6,224.5 L980.8,222.0 L986.0,219.5 L991.2,217.0 L996.4,214.5 L1001.6,212.0 L1006.8,209.6 L1012.0,207.2 L1017.2,204.9 L1022.4,202.6 L1027.6,200.3 L1032.8,198.1 L1038.0,195.9 L1043.2,193.8 L1048.3,191.7 L1053.5,189.7 L1058.7,187.7 L1063.9,185.8 L1069.1,183.9 L1074.3,182.1 L1079.5,180.3 L1084.7,178.5 L1089.9,176.9 L1095.1,175.2 L1100.3,173.6 L1105.5,172.1 L1110.7,170.6 L1115.9,169.1 L1121.1,167.6 L1126.3,166.2 L1131.5,164.8 L1136.7,163.5 L1141.9,162.1 L1147.1,160.8 L1152.3,159.5 L1157.5,158.3 L1162.7,157.0 L1167.9,155.8 L1173.1,154.5 L1178.3,153.3 L1183.5,152.1 L1188.7,150.9 L1193.9,149.7 L1199.1,148.5 L1204.3,147.2 L1209.5,146.0 L1214.7,144.8 L1219.9,143.5 L1225.1,142.3 L1230.3,141.0 L1235.5,139.7 L1240.7,138.4 L1245.9,137.1 L1251.1,135.7 L1256.3,134.4 L1261.5,133.0 L1266.7,131.5 L1271.9,130.0 L1277.1,128.5 L1282.3,127.0 L1287.5,125.4 L1292.7,123.8 L1297.9,122.1 L1303.1,120.4 L1308.3,118.6 L1313.5,116.8 L1318.7,114.9 L1323.9,113.0 L1329.1,111.0 L1334.3,108.9 L1339.5,106.8 L1344.7,104.6 L1349.9,102.3 L1355.1,100.0 L1355.1,177.3 L1349.9,175.9 L1344.7,174.6 L1339.5,173.4 L1334.3,172.3 L1329.1,171.3 L1323.9,170.3 L1318.7,169.4 L1313.5,168.6 L1308.3,167.9 L1303.1,167.3 L1297.9,166.7 L1292.7,166.2 L1287.5,165.8 L1282.3,165.5 L1277.1,165.2 L1271.9,165.0 L1266.7,164.8 L1261.5,164.8 L1256.3,164.8 L1251.1,164.9 L1245.9,165.0 L1240.7,165.2 L1235.5,165.5 L1230.3,165.8 L1225.1,166.2 L1219.9,166.7 L1214.7,167.2 L1209.5,167.8 L1204.3,168.4 L1199.1,169.1 L1193.9,169.9 L1188.7,170.7 L1183.5,171.6 L1178.3,172.5 L1173.1,173.5 L1167.9,174.5 L1162.7,175.6 L1157.5,176.7 L1152.3,177.9 L1147.1,179.2 L1141.9,180.4 L1136.7,181.8 L1131.5,183.1 L1126.3,184.6 L1121.1,186.0 L1115.9,187.5 L1110.7,189.1 L1105.5,190.7 L1100.3,192.3 L1095.1,194.0 L1089.9,195.7 L1084.7,197.4 L1079.5,199.2 L1074.3,201.0 L1069.1,202.9 L1063.9,204.8 L1058.7,206.7 L1053.5,208.7 L1048.3,210.7 L1043.2,212.8 L1038.0,214.9 L1032.8,217.1 L1027.6,219.3 L1022.4,221.5 L1017.2,223.8 L1012.0,226.2 L1006.8,228.6 L1001.6,231.0 L996.4,233.5 L991.2,236.0 L986.0,238.5 L980.8,241.1 L975.6,243.7 L970.4,246.3 L965.2,249.0 L960.0,251.7 L954.8,254.4 L949.6,257.1 L944.4,259.9 L939.2,262.7 L934.0,265.5 L928.8,268.3 L923.6,271.2 L918.4,274.1 L913.2,277.0 L908.0,279.9 L902.8,282.8 L897.6,285.7 L892.4,288.6 L887.2,291.6 L882.0,294.5 L876.8,297.5 L871.6,300.4 L866.4,303.4 L861.2,306.4 L856.0,309.4 L850.8,312.4 L845.6,315.4 L840.4,318.5 L835.2,321.5 L830.0,324.6 L824.8,327.8 L819.6,330.9 L814.4,334.1 L809.2,337.2 L804.0,340.5 L798.8,343.7 L793.6,346.9 L788.4,350.2 L783.2,353.4 L778.0,356.7 L772.8,360.0 L767.6,363.3 L762.4,366.6 L757.2,369.9 L752.0,373.3 L746.8,376.6 L741.6,379.9 L736.4,383.2Z" fill="#d244ad" fill-opacity="0.4" clip-path="url(#clip682)"/>
<path d="M736.4,345.5 L741.6,343.9 L746.8,342.3 L752.0,340.6 L757.2,338.8 L762.4,337.0 L767.6,335.1 L772.8,333.2 L778.0,331.2 L783.2,329.1 L788.4,327.0 L793.6,324.9 L798.8,322.7 L804.0,320.4 L809.2,318.1 L814.4,315.8 L819.6,313.4 L824.8,311.0 L830.0,308.6 L835.2,306.1 L840.4,303.6 L845.6,301.0 L850.8,298.5 L856.0,295.9 L861.2,293.3 L866.4,290.6 L871.6,288.0 L876.8,285.3 L882.0,282.6 L887.2,279.9 L892.4,277.2 L897.6,274.5 L902.8,271.8 L908.0,269.0 L913.2,266.3 L918.4,263.6 L923.6,260.8 L928.8,258.1 L934.0,255.4 L939.2,252.7 L944.4,250.0 L949.6,247.3 L954.8,244.6 L960.0,242.0 L965.2,239.3 L970.4,236.7 L975.6,234.1 L980.8,231.5 L986.0,229.0 L991.2,226.5 L996.4,224.0 L1001.6,221.5 L1006.8,219.1 L1012.0,216.7 L1017.2,214.4 L1022.4,212.1 L1027.6,209.8 L1032.8,207.6 L1038.0,205.4 L1043.2,203.3 L1048.3,201.2 L1053.5,199.2 L1058.7,197.2 L1063.9,195.3 L1069.1,193.4 L1074.3,191.5 L1079.5,189.7 L1084.7,188.0 L1089.9,186.3 L1095.1,184.6 L1100.3,183.0 L1105.5,181.4 L1110.7,179.8 L1115.9,178.3 L1121.1,176.8 L1126.3,175.4 L1131.5,174.0 L1136.7,172.6 L1141.9,171.3 L1147.1,170.0 L1152.3,168.7 L1157.5,167.5 L1162.7,166.3 L1167.9,165.1 L1173.1,164.0 L1178.3,162.9 L1183.5,161.8 L1188.7,160.8 L1193.9,159.8 L1199.1,158.8 L1204.3,157.8 L1209.5,156.9 L1214.7,156.0 L1219.9,155.1 L1225.1,154.3 L1230.3,153.4 L1235.5,152.6 L1240.7,151.8 L1245.9,151.1 L1251.1,150.3 L1256.3,149.6 L1261.5,148.9 L1266.7,148.2 L1271.9,147.5 L1277.1,146.9 L1282.3,146.2 L1287.5,145.6 L1292.7,145.0 L1297.9,144.4 L1303.1,143.8 L1308.3,143.3 L1313.5,142.7 L1318.7,142.2 L1323.9,141.6 L1329.1,141.1 L1334.3,140.6 L1339.5,140.1 L1344.7,139.6 L1349.9,139.1 L1355.1,138.6" fill="none" stroke="#c9509f" stroke-width="1" clip-path="url(#clip682)"/>
<path d="M736.4,309.4 L741.6,308.8 L746.8,308.2 L752.0,307.5 L757.2,306.8 L762.4,306.1 L767.6,305.4 L772.8,304.6 L778.0,303.8 L783.2,302.9 L788.4,302.0 L793.6,301.1 L798.8,300.1 L804.0,299.1 L809.2,298.0 L814.4,296.9 L819.6,295.7 L824.8,294.4 L830.0,293.1 L835.2,291.8 L840.4,290.4 L845.6,288.9 L850.8,287.4 L856.0,285.8 L861.2,284.2 L866.4,282.5 L871.6,280.8 L876.8,279.0 L882.0,277.1 L887.2,275.3 L892.4,273.3 L897.6,271.4 L902.8,269.3 L908.0,267.3 L913.2,265.2 L918.4,263.2 L923.6,261.1 L928.8,259.0 L934.0,256.8 L939.2,254.7 L944.4,252.6 L949.6,250.5 L954.8,248.5 L960.0,246.4 L965.2,244.3 L970.4,242.2 L975.6,240.2 L980.8,238.1 L986.0,236.1 L991.2,234.0 L996.4,232.0 L1001.6,230.0 L1006.8,228.0 L1012.0,226.0 L1017.2,224.0 L1022.4,222.0 L1027.6,220.0 L1032.8,218.0 L1038.0,216.1 L1043.2,214.1 L1048.3,212.1 L1053.5,210.2 L1058.7,208.3 L1063.9,206.3 L1069.1,204.4 L1074.3,202.5 L1079.5,200.6 L1084.7,198.7 L1089.9,196.8 L1095.1,194.9 L1100.3,193.0 L1105.5,191.1 L1110.7,189.3 L1115.9,187.4 L1121.1,185.6 L1126.3,183.7 L1131.5,181.9 L1136.7,180.1 L1141.9,178.3 L1147.1,176.5 L1152.3,174.7 L1157.5,172.9 L1162.7,171.1 L1167.9,169.3 L1173.1,167.5 L1178.3,165.8 L1183.5,164.0 L1188.7,162.3 L1193.9,160.5 L1199.1,158.8 L1204.3,157.1 L1209.5,155.4 L1214.7,153.7 L1219.9,152.0 L1225.1,150.3 L1230.3,148.6 L1235.5,146.9 L1240.7,145.2 L1245.9,143.6 L1251.1,141.9 L1256.3,140.3 L1261.5,138.6 L1266.7,137.0 L1271.9,135.4 L1277.1,133.8 L1282.3,132.2 L1287.5,130.6 L1292.7,129.0 L1297.9,127.4 L1303.1,125.8 L1308.3,124.3 L1313.5,122.7 L1318.7,121.2 L1323.9,119.6 L1329.1,118.1 L1334.3,116.6 L1339.5,115.0 L1344.7,113.5 L1349.9,112.0 L1355.1,110.5 L1355.1,159.5 L1349.9,159.6 L1344.7,159.7 L1339.5,159.8 L1334.3,160.0 L1329.1,160.3 L1323.9,160.6 L1318.7,161.0 L1313.5,161.5 L1308.3,161.9 L1303.1,162.5 L1297.9,163.0 L1292.7,163.7 L1287.5,164.4 L1282.3,165.1 L1277.1,165.8 L1271.9,166.7 L1266.7,167.5 L1261.5,168.4 L1256.3,169.4 L1251.1,170.4 L1245.9,171.4 L1240.7,172.5 L1235.5,173.6 L1230.3,174.8 L1225.1,175.9 L1219.9,177.2 L1214.7,178.4 L1209.5,179.7 L1204.3,181.1 L1199.1,182.5 L1193.9,183.9 L1188.7,185.3 L1183.5,186.8 L1178.3,188.3 L1173.1,189.8 L1167.9,191.4 L1162.7,193.0 L1157.5,194.6 L1152.3,196.3 L1147.1,197.9 L1141.9,199.6 L1136.7,201.4 L1131.5,203.1 L1126.3,204.9 L1121.1,206.7 L1115.9,208.5 L1110.7,210.4 L1105.5,212.2 L1100.3,214.1 L1095.1,216.0 L1089.9,217.9 L1084.7,219.9 L1079.5,221.8 L1074.3,223.8 L1069.1,225.8 L1063.9,227.8 L1058.7,229.8 L1053.5,231.9 L1048.3,233.9 L1043.2,235.9 L1038.0,238.0 L1032.8,240.1 L1027.6,242.2 L1022.4,244.2 L1017.2,246.3 L1012.0,248.4 L1006.8,250.6 L1001.6,252.7 L996.4,254.8 L991.2,256.9 L986.0,259.0 L980.8,261.2 L975.6,263.3 L970.4,265.4 L965.2,267.5 L960.0,269.7 L954.8,271.8 L949.6,273.9 L944.4,276.0 L939.2,278.1 L934.0,280.2 L928.8,282.4 L923.6,284.5 L918.4,286.6 L913.2,288.7 L908.0,290.9 L902.8,293.1 L897.6,295.3 L892.4,297.5 L887.2,299.8 L882.0,302.1 L876.8,304.4 L871.6,306.8 L866.4,309.3 L861.2,311.7 L856.0,314.3 L850.8,316.8 L845.6,319.5 L840.4,322.1 L835.2,324.8 L830.0,327.6 L824.8,330.3 L819.6,333.2 L814.4,336.0 L809.2,338.9 L804.0,341.9 L798.8,344.8 L793.6,347.8 L788.4,350.8 L783.2,353.9 L778.0,356.9 L772.8,360.0 L767.6,363.1 L762.4,366.2 L757.2,369.3 L752.0,372.4 L746.8,375.5 L741.6,378.6 L736.4,381.7Z" fill="#4b69dc" fill-opacity="0.3" clip-path="url(#clip682)"/>
<path d="M736.4,345.6 L741.6,343.7 L746.8,341.9 L752.0,340.0 L757.2,338.1 L762.4,336.2 L767.6,334.2 L772.8,332.3 L778.0,330.4 L783.2,328.4 L788.4,326.4 L793.6,324.5 L798.8,322.5 L804.0,320.5 L809.2,318.5 L814.4,316.4 L819.6,314.4 L824.8,312.4 L830.0,310.3 L835.2,308.3 L840.4,306.2 L845.6,304.2 L850.8,302.1 L856.0,300.0 L861.2,298.0 L866.4,295.9 L871.6,293.8 L876.8,291.7 L882.0,289.6 L887.2,287.5 L892.4,285.4 L897.6,283.3 L902.8,281.2 L908.0,279.1 L913.2,277.0 L918.4,274.9 L923.6,272.8 L928.8,270.7 L934.0,268.5 L939.2,266.4 L944.4,264.3 L949.6,262.2 L954.8,260.1 L960.0,258.0 L965.2,255.9 L970.4,253.8 L975.6,251.7 L980.8,249.6 L986.0,247.6 L991.2,245.5 L996.4,243.4 L1001.6,241.3 L1006.8,239.3 L1012.0,237.2 L1017.2,235.2 L1022.4,233.1 L1027.6,231.1 L1032.8,229.1 L1038.0,227.0 L1043.2,225.0 L1048.3,223.0 L1053.5,221.0 L1058.7,219.0 L1063.9,217.1 L1069.1,215.1 L1074.3,213.2 L1079.5,211.2 L1084.7,209.3 L1089.9,207.4 L1095.1,205.5 L1100.3,203.6 L1105.5,201.7 L1110.7,199.8 L1115.9,198.0 L1121.1,196.1 L1126.3,194.3 L1131.5,192.5 L1136.7,190.7 L1141.9,189.0 L1147.1,187.2 L1152.3,185.5 L1157.5,183.7 L1162.7,182.0 L1167.9,180.3 L1173.1,178.7 L1178.3,177.0 L1183.5,175.4 L1188.7,173.8 L1193.9,172.2 L1199.1,170.6 L1204.3,169.1 L1209.5,167.6 L1214.7,166.0 L1219.9,164.6 L1225.1,163.1 L1230.3,161.7 L1235.5,160.3 L1240.7,158.9 L1245.9,157.5 L1251.1,156.1 L1256.3,154.8 L1261.5,153.5 L1266.7,152.3 L1271.9,151.0 L1277.1,149.8 L1282.3,148.6 L1287.5,147.5 L1292.7,146.3 L1297.9,145.2 L1303.1,144.1 L1308.3,143.1 L1313.5,142.1 L1318.7,141.1 L1323.9,140.1 L1329.1,139.2 L1334.3,138.3 L1339.5,137.4 L1344.7,136.6 L1349.9,135.8 L1355.1,135.0" fill="none" stroke="#5566bb" stroke-width="1" clip-path="url(#clip682)"/>
</g>
<line x1="733.4" y1="236.5" x2="1355.1" y2="236.5" stroke="#b4b4b4" stroke-width="1" stroke-dasharray="6.4,1.6,1,1.6"/>
<line x1="969.4" y1="212.4" x2="969.4" y2="234.4" stroke="#222" stroke-width="0.9"/>
<path d="M966.8,216.70000000000002 L969.4,211.9 L972.0,216.70000000000002" fill="none" stroke="#222" stroke-width="1"/>
<path d="M966.8,230.1 L969.4,234.9 L972.0,230.1" fill="none" stroke="#222" stroke-width="1"/>
<line x1="1016.4" y1="182.4" x2="1016.4" y2="234.4" stroke="#222" stroke-width="0.9"/>
<path d="M1013.8,186.70000000000002 L1016.4,181.9 L1019.0,186.70000000000002" fill="none" stroke="#222" stroke-width="1"/>
<path d="M1013.8,230.1 L1016.4,234.9 L1019.0,230.1" fill="none" stroke="#222" stroke-width="1"/>
<line x1="1016.4" y1="217.7" x2="1016.4" y2="234.4" stroke="#222" stroke-width="0.9"/>
<path d="M1013.8,222.0 L1016.4,217.2 L1019.0,222.0" fill="none" stroke="#222" stroke-width="1"/>
<path d="M1013.8,230.1 L1016.4,234.9 L1019.0,230.1" fill="none" stroke="#222" stroke-width="1"/>
<line x1="992.2" y1="256.1" x2="971.5" y2="224.0" stroke="#333" stroke-width="1"/>
<path d="M976.3,226.8 L971.5,224.0 L972.1,229.6" fill="none" stroke="#333" stroke-width="1"/>
<rect x="967.3" y="256.1" width="68.60000000000014" height="24.69999999999999" rx="0.8" fill="#fff" fill-opacity="0.45" stroke="#3a3a3a" stroke-opacity="0.9" stroke-width="1.1"/>
<line x1="1092.4" y1="259.1" x2="1019.0" y2="226.0" stroke="#333" stroke-width="1"/>
<path d="M1024.6,225.8 L1019.0,226.0 L1022.5,230.3" fill="none" stroke="#333" stroke-width="1"/>
<rect x="1087.6" y="259.1" width="69.20000000000005" height="24.299999999999955" rx="0.8" fill="#fff" fill-opacity="0.45" stroke="#3a3a3a" stroke-opacity="0.9" stroke-width="1.1"/>
<line x1="1160.5" y1="244.2" x2="1019.0" y2="208.4" stroke="#333" stroke-width="1"/>
<path d="M1024.5,207.2 L1019.0,208.4 L1023.2,212.1" fill="none" stroke="#333" stroke-width="1"/>
<rect x="1160.5" y="242.1" width="68.40000000000009" height="24.099999999999994" rx="0.8" fill="#fff" fill-opacity="0.45" stroke="#3a3a3a" stroke-opacity="0.9" stroke-width="1.1"/>
<text x="970.5" y="265.9" font-size="9.3" text-anchor="start" font-weight="bold" textLength="63.4" lengthAdjust="spacingAndGlyphs" xml:space="preserve" stroke="#000" stroke-width="0.42">0.12 <tspan font-weight="normal" stroke-width="0.1" fill="#222">±</tspan>  0.03</text>
<text x="970.5" y="276.1" font-size="9.3" text-anchor="start" font-weight="bold" textLength="39.4" lengthAdjust="spacingAndGlyphs" stroke="#000" stroke-width="0.42">2.3e-04</text>
<text x="1090.8" y="268.9" font-size="9.3" text-anchor="start" font-weight="bold" textLength="63.4" lengthAdjust="spacingAndGlyphs" xml:space="preserve" stroke="#000" stroke-width="0.42">0.10 <tspan font-weight="normal" stroke-width="0.1" fill="#222">±</tspan>  0.03</text>
<text x="1090.8" y="279.1" font-size="9.3" text-anchor="start" font-weight="bold" textLength="39.4" lengthAdjust="spacingAndGlyphs" stroke="#000" stroke-width="0.42">8.9e-04</text>
<text x="1163.7" y="251.9" font-size="9.3" text-anchor="start" font-weight="bold" textLength="63.4" lengthAdjust="spacingAndGlyphs" xml:space="preserve" stroke="#000" stroke-width="0.42">0.25 <tspan font-weight="normal" stroke-width="0.1" fill="#222">±</tspan>  0.03</text>
<text x="1163.7" y="262.1" font-size="9.3" text-anchor="start" font-weight="bold" textLength="39.4" lengthAdjust="spacingAndGlyphs" stroke="#000" stroke-width="0.42">6.0e-14</text>
<rect x="733.4" y="10.8" width="621.7" height="395.5" fill="none" stroke="#6a6a6a" stroke-width="1.1"/>
<line x1="733.4" y1="406.3" x2="733.4" y2="409.1" stroke="#555" stroke-width="1"/>
<text x="733.4" y="424.1" font-size="13.9" text-anchor="middle" font-weight="normal" textLength="7.6" lengthAdjust="spacingAndGlyphs" fill="#222" stroke="#222" stroke-width="0.15">2</text>
<line x1="879.7" y1="406.3" x2="879.7" y2="409.1" stroke="#555" stroke-width="1"/>
<text x="879.7" y="424.1" font-size="13.9" text-anchor="middle" font-weight="normal" textLength="7.6" lengthAdjust="spacingAndGlyphs" fill="#222" stroke="#222" stroke-width="0.15">4</text>
<line x1="1026.0" y1="406.3" x2="1026.0" y2="409.1" stroke="#555" stroke-width="1"/>
<text x="1026.0" y="424.1" font-size="13.9" text-anchor="middle" font-weight="normal" textLength="7.6" lengthAdjust="spacingAndGlyphs" fill="#222" stroke="#222" stroke-width="0.15">6</text>
<line x1="1172.2" y1="406.3" x2="1172.2" y2="409.1" stroke="#555" stroke-width="1"/>
<text x="1172.2" y="424.1" font-size="13.9" text-anchor="middle" font-weight="normal" textLength="7.6" lengthAdjust="spacingAndGlyphs" fill="#222" stroke="#222" stroke-width="0.15">8</text>
<line x1="1318.5" y1="406.3" x2="1318.5" y2="409.1" stroke="#555" stroke-width="1"/>
<text x="1318.5" y="424.1" font-size="13.9" text-anchor="middle" font-weight="normal" textLength="15.6" lengthAdjust="spacingAndGlyphs" fill="#222" stroke="#222" stroke-width="0.15">10</text>
<line x1="730.4" y1="372.1" x2="733.4" y2="372.1" stroke="#555" stroke-width="1"/>
<text x="725.5" y="377.3" font-size="13.9" text-anchor="end" font-weight="normal" textLength="19.0" lengthAdjust="spacingAndGlyphs" fill="#222" stroke="#222" stroke-width="0.15">0.4</text>
<line x1="730.4" y1="326.9" x2="733.4" y2="326.9" stroke="#555" stroke-width="1"/>
<text x="725.5" y="332.1" font-size="13.9" text-anchor="end" font-weight="normal" textLength="19.0" lengthAdjust="spacingAndGlyphs" fill="#222" stroke="#222" stroke-width="0.15">0.6</text>
<line x1="730.4" y1="281.8" x2="733.4" y2="281.8" stroke="#555" stroke-width="1"/>
<text x="725.5" y="287.0" font-size="13.9" text-anchor="end" font-weight="normal" textLength="19.0" lengthAdjust="spacingAndGlyphs" fill="#222" stroke="#222" stroke-width="0.15">0.8</text>
<line x1="730.4" y1="236.6" x2="733.4" y2="236.6" stroke="#555" stroke-width="1"/>
<text x="725.5" y="241.8" font-size="13.9" text-anchor="end" font-weight="normal" textLength="19.0" lengthAdjust="spacingAndGlyphs" fill="#222" stroke="#222" stroke-width="0.15">1.0</text>
<line x1="730.4" y1="191.4" x2="733.4" y2="191.4" stroke="#555" stroke-width="1"/>
<text x="725.5" y="196.6" font-size="13.9" text-anchor="end" font-weight="normal" textLength="19.0" lengthAdjust="spacingAndGlyphs" fill="#222" stroke="#222" stroke-width="0.15">1.2</text>
<line x1="730.4" y1="146.3" x2="733.4" y2="146.3" stroke="#555" stroke-width="1"/>
<text x="725.5" y="151.5" font-size="13.9" text-anchor="end" font-weight="normal" textLength="19.0" lengthAdjust="spacingAndGlyphs" fill="#222" stroke="#222" stroke-width="0.15">1.4</text>
<line x1="730.4" y1="101.1" x2="733.4" y2="101.1" stroke="#555" stroke-width="1"/>
<text x="725.5" y="106.3" font-size="13.9" text-anchor="end" font-weight="normal" textLength="19.0" lengthAdjust="spacingAndGlyphs" fill="#222" stroke="#222" stroke-width="0.15">1.6</text>
<line x1="730.4" y1="56.0" x2="733.4" y2="56.0" stroke="#555" stroke-width="1"/>
<text x="725.5" y="61.2" font-size="13.9" text-anchor="end" font-weight="normal" textLength="19.0" lengthAdjust="spacingAndGlyphs" fill="#222" stroke="#222" stroke-width="0.15">1.8</text>
<line x1="730.4" y1="10.8" x2="733.4" y2="10.8" stroke="#555" stroke-width="1"/>
<text x="725.5" y="16.0" font-size="13.9" text-anchor="end" font-weight="normal" textLength="19.0" lengthAdjust="spacingAndGlyphs" fill="#222" stroke="#222" stroke-width="0.15">2.0</text>
<text x="1044.2" y="440.8" font-size="15.5" text-anchor="middle" fill="#111" stroke="#111" stroke-width="0.15" textLength="269" lengthAdjust="spacingAndGlyphs"># Contacts per day per human (<tspan font-style="italic">C</tspan>)</text>
<text transform="translate(703.6,210) rotate(-90)" font-size="16.4" text-anchor="middle" fill="#111" stroke="#111" stroke-width="0.15">R</text>
<rect x="740.9" y="18.5" width="139.0" height="73.6" rx="2.5" fill="#fff" fill-opacity="0.8" stroke="#e2e2e2" stroke-width="1"/>
<line x1="746.6999999999999" y1="30.9" x2="778.6999999999999" y2="30.9" stroke="#aab4bd" stroke-width="2"/>
<text x="792.0" y="36.8" font-size="16.3" text-anchor="start" font-weight="normal" textLength="81.2" lengthAdjust="spacingAndGlyphs" fill="#111" stroke="#111" stroke-width="0.2">No Tracing</text>
<line x1="746.6999999999999" y1="54.0" x2="778.6999999999999" y2="54.0" stroke="#e8acd8" stroke-width="2"/>
<text x="792.0" y="59.9" font-size="16.3" text-anchor="start" font-weight="normal" textLength="29.8" lengthAdjust="spacingAndGlyphs" fill="#111" stroke="#111" stroke-width="0.2">BCT</text>
<line x1="746.6999999999999" y1="77.2" x2="778.6999999999999" y2="77.2" stroke="#b0c2ee" stroke-width="2"/>
<text x="792.0" y="83.1" font-size="16.3" text-anchor="start" font-weight="normal" textLength="54.2" lengthAdjust="spacingAndGlyphs" fill="#111" stroke="#111" stroke-width="0.2">ST-PCT</text>
</g>
</svg></body></html>
